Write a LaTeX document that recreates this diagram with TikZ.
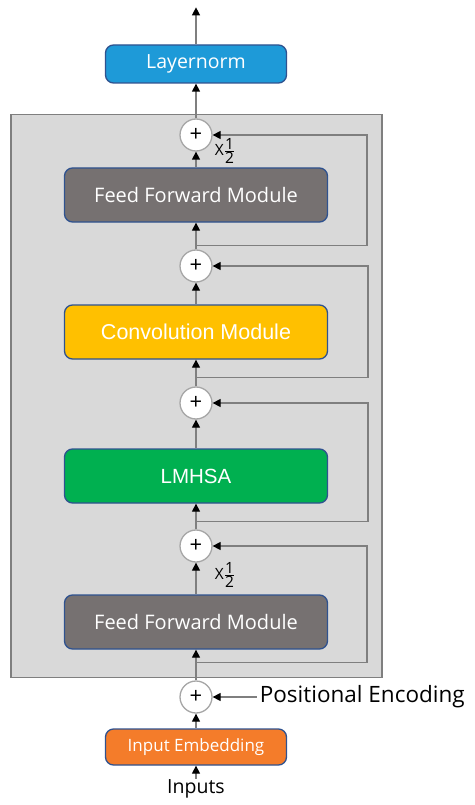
\documentclass[tikz,border=0pt]{standalone}
\usepackage{fontspec}
\setmainfont{Open Sans}
\newfontfamily\arialfont{Liberation Sans}
\usepackage{tikz}
\usetikzlibrary{arrows.meta,calc,backgrounds}

\definecolor{lnblue}{HTML}{1E9AD8}
\definecolor{ffgray}{HTML}{767171}
\definecolor{convyellow}{HTML}{FFC000}
\definecolor{mhsagreen}{HTML}{00B050}
\definecolor{embedorange}{HTML}{F47C2A}
\definecolor{edgeblue}{HTML}{2F528F}
\definecolor{encgray}{HTML}{D9D9D9}
\definecolor{linegray}{HTML}{7F7F7F}
\definecolor{circgray}{HTML}{A6A6A6}

\begin{document}
\begin{tikzpicture}[x=1pt, y=1pt,
    module/.style={draw=edgeblue, line width=1.3pt, rounded corners=8pt, text=white,
        minimum width=263pt, minimum height=54pt, inner sep=0pt,
        font=\fontsize{20}{22}\selectfont},
    smallbox/.style={module, minimum width=181pt, font=\fontsize{19.5}{22}\selectfont},
    plus/.style={circle, draw=circgray, fill=white, line width=1.3pt,
        minimum size=32pt, inner sep=0pt, font=\fontsize{22}{24}\selectfont},
    caption/.style={inner sep=1pt, font=\fontsize{19.5}{22}\selectfont},
    half/.style={inner sep=0pt, font=\fontsize{15.5}{15.5}\selectfont},
    flow/.style={draw=linegray, line width=1.3pt,
        -{Triangle[black, length=8pt, width=8pt]}}]
    \useasboundingbox (0,0) rectangle (474,-805);

    \node[smallbox, fill=embedorange, minimum height=36pt, font=\fontsize{17}{20}\selectfont] (embed) at (196,-747) {Input Embedding};
    \node[caption] (inputs) [below of=embed, node distance=42pt] {Inputs};
    \node[plus] (pe) [above of=embed, node distance=50pt] {+};
    \node[caption, anchor=west, inner sep=3pt, font=\fontsize{22.5}{24}\selectfont] (pos) at ($(pe.east)+(44pt,0)$) {Positional Encoding};
    \node[module, fill=ffgray] (ffa) [above of=pe, node distance=75pt] {Feed Forward Module};
    \node[plus] (pa) [above of=ffa, node distance=76pt] {+};
    \node[module, fill=mhsagreen, font=\arialfont\fontsize{20.5}{24}\selectfont] (mhsa) [above of=pa, node distance=70pt] {LMHSA};
    \node[plus] (pb) [above of=mhsa, node distance=73pt] {+};
    \node[module, fill=convyellow, font=\arialfont\fontsize{21.5}{24}\selectfont] (conv) [above of=pb, node distance=71pt] {Convolution Module};
    \node[plus] (pc) [above of=conv, node distance=66pt] {+};
    \node[module, fill=ffgray] (ffb) [above of=pc, node distance=71pt] {Feed Forward Module};
    \node[plus] (pd) [above of=ffb, node distance=60pt] {+};
    \node[smallbox, fill=lnblue, minimum height=38pt] (norm) [above of=pd, node distance=71pt] {Layernorm};
    \coordinate (out) at ($(norm.north)+(0,37pt)$);

    \node[half] (hd) at ($(pd)+(29pt,-16pt)$) {X$\frac{\mbox{1}}{\mbox{2}}$};
    \node[half] (ha) at ($(pa)+(29pt,-29pt)$) {X$\frac{\mbox{1}}{\mbox{2}}$};

    \begin{scope}[on background layer]
        \draw[fill=encgray, draw=linegray, line width=1.5pt]
            ($(ffa.south west)+(-53pt,-28pt)$) rectangle ($(ffb.north east)+(54pt,53pt)$);
    \end{scope}

    \coordinate (sa) at ($(pe.north)+(0,18pt)$);
    \coordinate (sb) at ($(pa.north)+(0,8pt)$);
    \coordinate (sc) at ($(pb.north)+(0,9pt)$);
    \coordinate (sd) at ($(pc.north)+(0,4pt)$);

    \draw[flow] (inputs) -- (embed);
    \draw[flow] (embed) -- (pe);
    \draw[flow] (pos) -- (pe);
    \draw[flow] (pe) -- (ffa);
    \draw[flow] (ffa) -- (pa);
    \draw[flow] (pa) -- (mhsa);
    \draw[flow] (mhsa) -- (pb);
    \draw[flow] (pb) -- (conv);
    \draw[flow] (conv) -- (pc);
    \draw[flow] (pc) -- (ffb);
    \draw[flow] (ffb) -- (pd);
    \draw[flow] (pd) -- (norm);
    \draw[flow] (norm) -- (out);

    \draw[flow] (sa) -- ++(171,0) |- (pa);
    \draw[flow] (sb) -- ++(172,0) |- (pb);
    \draw[flow] (sc) -- ++(172,0) |- (pc);
    \draw[flow] (sd) -- ++(171,0) |- (pd);
\end{tikzpicture}
\end{document}
